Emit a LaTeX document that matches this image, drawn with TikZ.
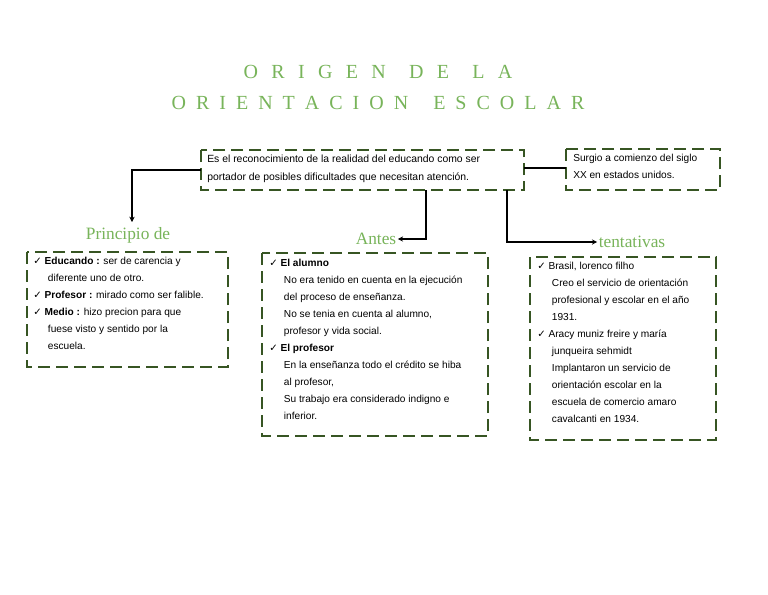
\documentclass[tikz,border=0pt]{standalone}
\usepackage{fontspec}
\setmainfont{Liberation Sans}
\newfontfamily\titlefont{Liberation Serif}
\newfontfamily\symfont{DejaVu Sans}
\usetikzlibrary{arrows.meta}
\definecolor{boxgreen}{RGB}{55,85,35}
\definecolor{titlegreen}{RGB}{120,180,90}
\newcommand{\ck}{{\symfont\char"2713}\ }
\tikzset{
  dbox/.style={draw=boxgreen,line width=1.8pt,dash pattern=on 9pt off 4.5pt},
  txt/.style={anchor=north west,align=left,font=\fontsize{7.6}{12.7}\selectfont,inner sep=0pt},
  lab/.style={font=\titlefont\fontsize{13}{14}\selectfont,text=titlegreen,inner sep=1pt},
  conn/.style={line width=1pt,-{Stealth[length=4pt,width=4pt]}}
}
\begin{document}
\begin{tikzpicture}[x=0.75pt,y=-0.75pt]
\useasboundingbox[fill=white] (0,0) rectangle (768,594);
\node[font=\titlefont\fontsize{15}{16}\selectfont,text=titlegreen] (t1) at (378,72) {O\ \ \,R\ \ \,I\ \ \,G\ \ \,E\ \ \,N\ \ \ \ \,D\ \ \,E\ \ \ \ \,L\ \ \,A};
\node[font=\titlefont\fontsize{15}{16}\selectfont,text=titlegreen] (t2) at (378,103) {O\ \ R\ \ I\ \ E\ \ N\ \ T\ \ A\ \ C\ \ I\ \ O\ \ N\ \ \ \ \ E\ \ S\ \ C\ \ O\ \ L\ \ A\ \ R};
% boxes
\draw[dbox] (201,150) rectangle (524,190);
\coordinate (mainW) at (201,170); \coordinate (mainE) at (524,168);
\node[txt,font=\fontsize{7.8}{13}\selectfont] (mt) at (207,155) {Es el reconocimiento de la realidad del educando como ser\\portador de posibles dificultades que necesitan atención.};
\draw[dbox] (566,149) rectangle (720,190);
\coordinate (rW) at (566,168);
\node[txt,font=\fontsize{7.6}{13}\selectfont] (rt) at (573,154) {Surgio a comienzo del siglo\\XX en estados unidos.};
\node[lab] (p) at (128,235) {Principio de};
\node[lab] (a) at (376,239) {Antes};
\node[lab] (te) at (632,242) {tentativas};
\draw[dbox] (27,252) rectangle (228,367);
\node[txt] (lt) at (33,257) {\ck\textbf{Educando :} ser de carencia y\\\hspace{11pt}diferente uno de otro.\\\ck\textbf{Profesor :} mirado como ser falible.\\\ck\textbf{Medio :} hizo precion para que\\\hspace{11pt}fuese visto y sentido por la\\\hspace{11pt}escuela.};
\draw[dbox] (262,253) rectangle (488,436);
\node[txt] (mt2) at (269,259) {\ck\textbf{El alumno}\\\hspace{11pt}No era tenido en cuenta en la ejecución\\\hspace{11pt}del proceso de enseñanza.\\\hspace{11pt}No se tenia en cuenta al alumno,\\\hspace{11pt}profesor y vida social.\\\ck\textbf{El profesor}\\\hspace{11pt}En la enseñanza todo el crédito se hiba\\\hspace{11pt}al profesor,\\\hspace{11pt}Su trabajo era considerado indigno e\\\hspace{11pt}inferior.};
\draw[dbox] (530,257) rectangle (716,440);
\node[txt] (rt2) at (537,262) {\ck Brasil, lorenco filho\\\hspace{11pt}Creo el servicio de orientación\\\hspace{11pt}profesional y escolar en el año\\\hspace{11pt}1931.\\\ck Aracy muniz freire y maría\\\hspace{11pt}junqueira sehmidt\\\hspace{11pt}Implantaron un servicio de\\\hspace{11pt}orientación escolar en la\\\hspace{11pt}escuela de comercio amaro\\\hspace{11pt}cavalcanti en 1934.};
% connectors
\draw[conn] (mainW) -- (132,170) -- (132,222);
\draw[conn] (426,190) |- (a.east);
\draw[conn] (507,190) |- (te.west);
\draw[line width=1pt] (mainE) -- (rW);
\end{tikzpicture}
\end{document}
